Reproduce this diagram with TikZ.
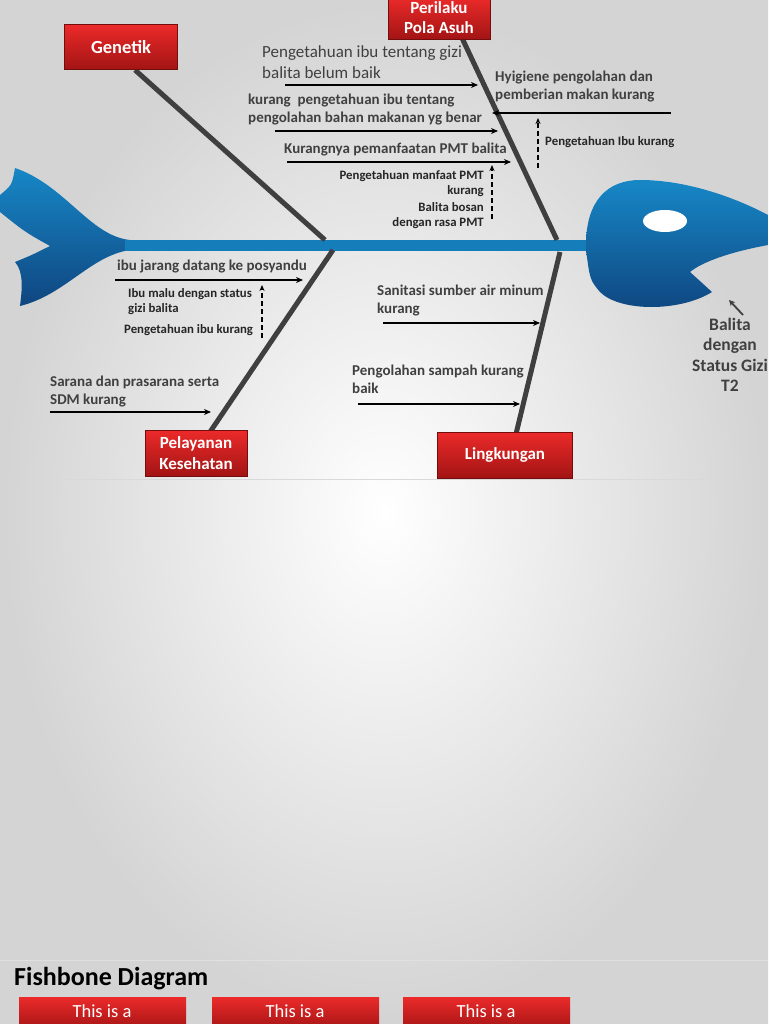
\documentclass[tikz,border=0pt]{standalone}
\usepackage{fontspec}
\setmainfont{Carlito}
\usetikzlibrary{arrows.meta}
\definecolor{bone}{HTML}{3F3F3F}
\definecolor{txt}{HTML}{404040}
\definecolor{fishtop}{HTML}{1787C6}
\definecolor{fishbot}{HTML}{0F4680}
\definecolor{redtop}{HTML}{EC2A2A}
\definecolor{redbot}{HTML}{A31414}
\tikzset{
 x=1pt,y=-1pt,
 redbox/.style={top color=redtop,bottom color=redbot,draw=redbot!70!black,line width=0.4pt,text=white,font=\bfseries\fontsize{18.5}{22}\selectfont,align=center,inner sep=0pt},
 bonel/.style={draw=bone,line width=5pt},
 arr/.style={draw=black,line width=1.5pt,-{Stealth[length=7pt,width=6pt]}},
 darr/.style={draw=black,line width=1.4pt,dash pattern=on 5pt off 3pt,-{Stealth[length=6pt,width=5pt]}},
 lbl/.style={text=txt,font=\bfseries\fontsize{15}{18}\selectfont,align=left,inner sep=0pt,anchor=north west},
 slbl/.style={text=black!85,font=\bfseries\fontsize{12.8}{15.5}\selectfont,inner sep=0pt},
}
\begin{document}
\begin{tikzpicture}
\useasboundingbox (0,0) rectangle (768,1024);
\shade[inner color=white,outer color=black!17] (0,0) rectangle (768,1024);
\draw[black!15,line width=0.6pt] (50,479) -- (715,479);
\draw[black!12,line width=0.6pt] (0,960) -- (768,960);
% fish
\shade[top color=fishtop,bottom color=fishbot] (15,168) .. controls (65,185) and (90,236) .. (130,240) -- (130,250) .. controls (90,256) and (65,295) .. (20,306) .. controls (22,290) and (24,272) .. (15,262) .. controls (32,255) .. (50,246) .. controls (25,232) .. (0,212) -- (0,195) .. controls (12,185) .. (15,168) -- cycle;
\fill[fishtop!85!fishbot] (125,239.5) rectangle (600,250.5);
\shade[top color=fishtop,bottom color=fishbot] (586,245) .. controls (586,200) and (608,180) .. (640,180) .. controls (690,180) and (740,200) .. (768,215) -- (768,245) .. controls (730,252) and (702,262) .. (690,272) -- (712,292) .. controls (680,312) and (620,312) .. (600,292) .. controls (590,280) .. (586,250) -- cycle;
\fill[white] (665,221) ellipse (22 and 11);
% bones
\coordinate (gA) at (135,70); \coordinate (gB) at (325,240);
\coordinate (pA) at (333,250); \coordinate (pB) at (210,432);
\coordinate (rA) at (462,38); \coordinate (rB) at (557,240);
\coordinate (lA) at (560,252); \coordinate (lB) at (516,434);
\draw[bonel] (gA) -- (gB);
\draw[bonel] (pA) -- (pB);
\draw[bonel] (rA) -- (rB);
\draw[bonel] (lA) -- (lB);
% boxes
\node[redbox,minimum width=113,minimum height=45] (gen) at (121,47) {Genetik};
\node[redbox,minimum width=102,minimum height=42,font=\bfseries\fontsize{17}{20}\selectfont] (per) at (439,18) {Perilaku\\Pola Asuh};
\node[redbox,minimum width=102,minimum height=46,font=\bfseries\fontsize{17}{21}\selectfont] (pel) at (196,453) {Pelayanan\\Kesehatan};
\node[redbox,minimum width=135,minimum height=46,font=\bfseries\fontsize{17}{21}\selectfont] (lin) at (505,455) {Lingkungan};
% causes top
\node[lbl,font=\fontsize{17}{21}\selectfont] (t1) at (262,45) {Pengetahuan ibu tentang gizi\\balita belum baik};
\coordinate (a1s) at (285,85); \coordinate (a1e) at (478,85);
\draw[arr] (a1s) -- (a1e);
\node[lbl] (t2) at (248,94) {kurang\ \ pengetahuan ibu tentang\\pengolahan bahan makanan yg benar};
\coordinate (a2s) at (275,131); \coordinate (a2e) at (498,131);
\draw[arr] (a2s) -- (a2e);
\node[lbl] (t3) at (284,143) {Kurangnya pemanfaatan PMT balita};
\coordinate (a3s) at (287,162); \coordinate (a3e) at (511,162);
\draw[arr] (a3s) -- (a3e);
\node[lbl] (t4) at (495,71) {Hyigiene pengolahan dan\\pemberian makan kurang};
\coordinate (a4s) at (671,113); \coordinate (a4e) at (492,113);
\draw[arr] (a4s) -- (a4e);
\coordinate (d1s) at (538,168); \coordinate (d1e) at (538,118);
\draw[darr] (d1s) -- (d1e);
\node[slbl,anchor=west] (t5) at (545,142) {Pengetahuan Ibu kurang};
\coordinate (d2s) at (492,219); \coordinate (d2e) at (492,165);
\draw[darr] (d2s) -- (d2e);
\node[slbl,anchor=north east,align=right] (t6) at (484,170) {Pengetahuan manfaat PMT\\kurang};
\node[slbl,anchor=north east,align=right] (t7) at (484,202) {Balita bosan\\dengan rasa PMT};
% causes bottom left
\node[lbl] (t8) at (117,260) {ibu jarang datang ke posyandu};
\coordinate (a5s) at (115,280); \coordinate (a5e) at (303,280);
\draw[arr] (a5s) -- (a5e);
\coordinate (d3s) at (262,338); \coordinate (d3e) at (262,285);
\draw[darr] (d3s) -- (d3e);
\node[slbl,anchor=north west,align=left] (t9) at (128,288) {Ibu malu dengan status\\gizi balita};
\node[slbl,anchor=west] (t10) at (124,330) {Pengetahuan ibu kurang};
\node[lbl] (t11) at (50,376) {Sarana dan prasarana serta\\SDM kurang};
\coordinate (a6s) at (50,412); \coordinate (a6e) at (211,412);
\draw[arr] (a6s) -- (a6e);
% causes bottom right
\node[lbl] (t12) at (377,285) {Sanitasi sumber air minum\\kurang};
\coordinate (a7s) at (383,323); \coordinate (a7e) at (540,323);
\draw[arr] (a7s) -- (a7e);
\node[lbl] (t13) at (352,365) {Pengolahan sampah kurang\\baik};
\coordinate (a8s) at (358,404); \coordinate (a8e) at (520,404);
\draw[arr] (a8s) -- (a8e);
% effect
\coordinate (a9s) at (743,315); \coordinate (a9e) at (729,300);
\draw[draw=txt,line width=1.8pt,-{Stealth[length=6pt,width=6pt]}] (a9s) -- (a9e);
\node[text=txt,font=\bfseries\fontsize{17.5}{20.5}\selectfont,align=center,anchor=north,inner sep=0pt] (eff) at (730,318) {Balita\\dengan\\Status Gizi\\T2};
% footer
\node[anchor=west,inner sep=0pt,font=\bfseries\fontsize{26}{30}\selectfont] (title) at (14,979) {Fishbone Diagram};
\path[top color=redtop,bottom color=redbot] (19,997) rectangle (186,1030);
\path[top color=redtop,bottom color=redbot] (212,997) rectangle (379,1030);
\path[top color=redtop,bottom color=redbot] (403,997) rectangle (570,1030);
\node[text=white,font=\fontsize{18.5}{22}\selectfont,inner sep=0pt] (f1) at (102,1011) {This is a};
\node[text=white,font=\fontsize{18.5}{22}\selectfont,inner sep=0pt] (f2) at (295,1011) {This is a};
\node[text=white,font=\fontsize{18.5}{22}\selectfont,inner sep=0pt] (f3) at (486,1011) {This is a};
\end{tikzpicture}
\end{document}
